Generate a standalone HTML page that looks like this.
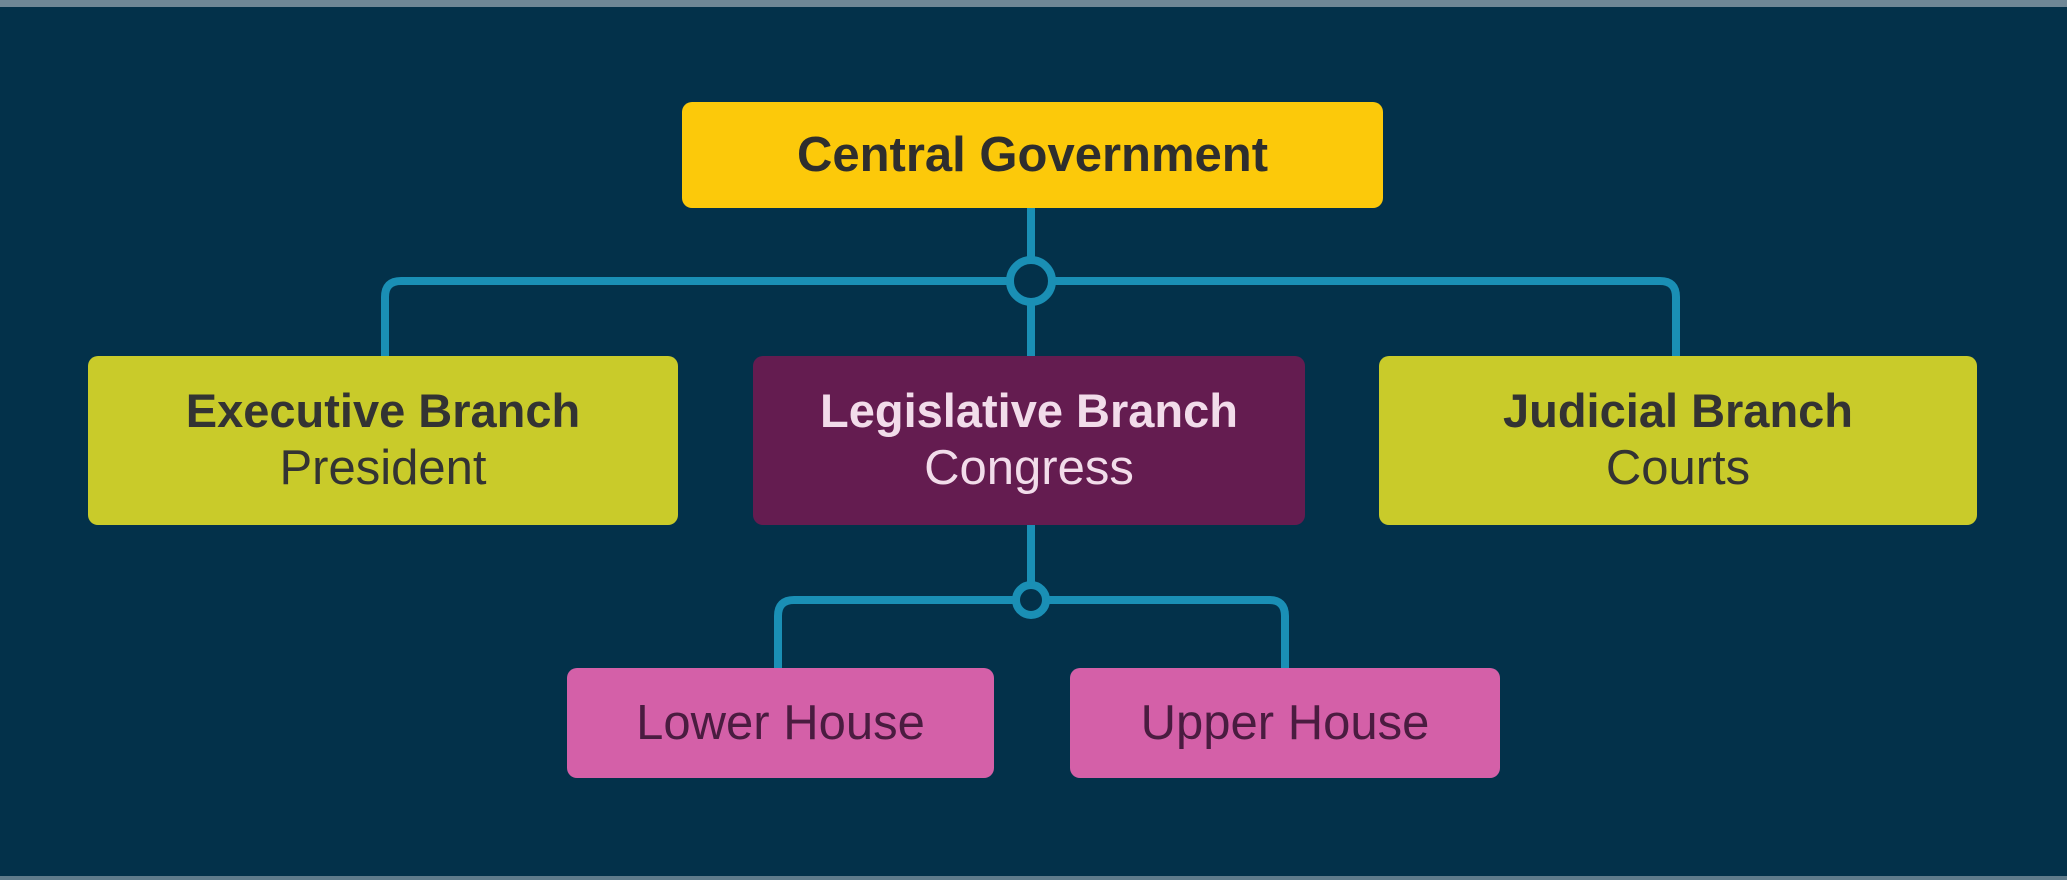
<!DOCTYPE html>
<html><head><meta charset="utf-8"><style>
html,body{margin:0;padding:0}
body{width:2067px;height:880px;background:#03314a;position:relative;overflow:hidden;font-family:"Liberation Sans",sans-serif}
.top{position:absolute;left:0;top:0;width:2067px;height:7px;background:#6f8796}
.bot{position:absolute;left:0;top:876px;width:2067px;height:4px;background:#5f7b8b}
.b{position:absolute;border-radius:10px;display:flex;flex-direction:column;align-items:center;justify-content:center;text-align:center;line-height:1.2;white-space:nowrap}
.b b{font-size:47px}
.b span{font-size:49px}
svg{position:absolute;left:0;top:0}
</style></head><body>
<div class="top"></div><div class="bot"></div>
<svg width="2067" height="880">
<g fill="none" stroke="#1a8fb5" stroke-width="8">
<path d="M1031 208 V356"/>
<path d="M385 356 V297 Q385 281 401 281 H1660 Q1676 281 1676 297 V356"/>
<path d="M1031 525 V600"/>
<path d="M778 668 V616 Q778 600 794 600 H1269 Q1285 600 1285 616 V668"/>
</g>
<circle cx="1031" cy="281" r="21" fill="#03314a" stroke="#1a8fb5" stroke-width="8"/>
<circle cx="1031" cy="600" r="15" fill="#03314a" stroke="#1a8fb5" stroke-width="8"/>
</svg>
<div class="b" style="left:682px;top:102px;width:701px;height:106px;background:#fcc90a;color:#2e2e2e"><b style="font-size:49px">Central Government</b></div>
<div class="b" style="left:88px;top:356px;width:590px;height:169px;background:#c9cb2a;color:#333"><b>Executive Branch</b><span>President</span></div>
<div class="b" style="left:753px;top:356px;width:552px;height:169px;background:#641c50;color:#f2dcea"><b>Legislative Branch</b><span>Congress</span></div>
<div class="b" style="left:1379px;top:356px;width:598px;height:169px;background:#c9cb2a;color:#333"><b>Judicial Branch</b><span>Courts</span></div>
<div class="b" style="left:567px;top:668px;width:427px;height:110px;background:#d460a8;color:#4a1c40"><span>Lower House</span></div>
<div class="b" style="left:1070px;top:668px;width:430px;height:110px;background:#d460a8;color:#4a1c40"><span>Upper House</span></div>
</body></html>
